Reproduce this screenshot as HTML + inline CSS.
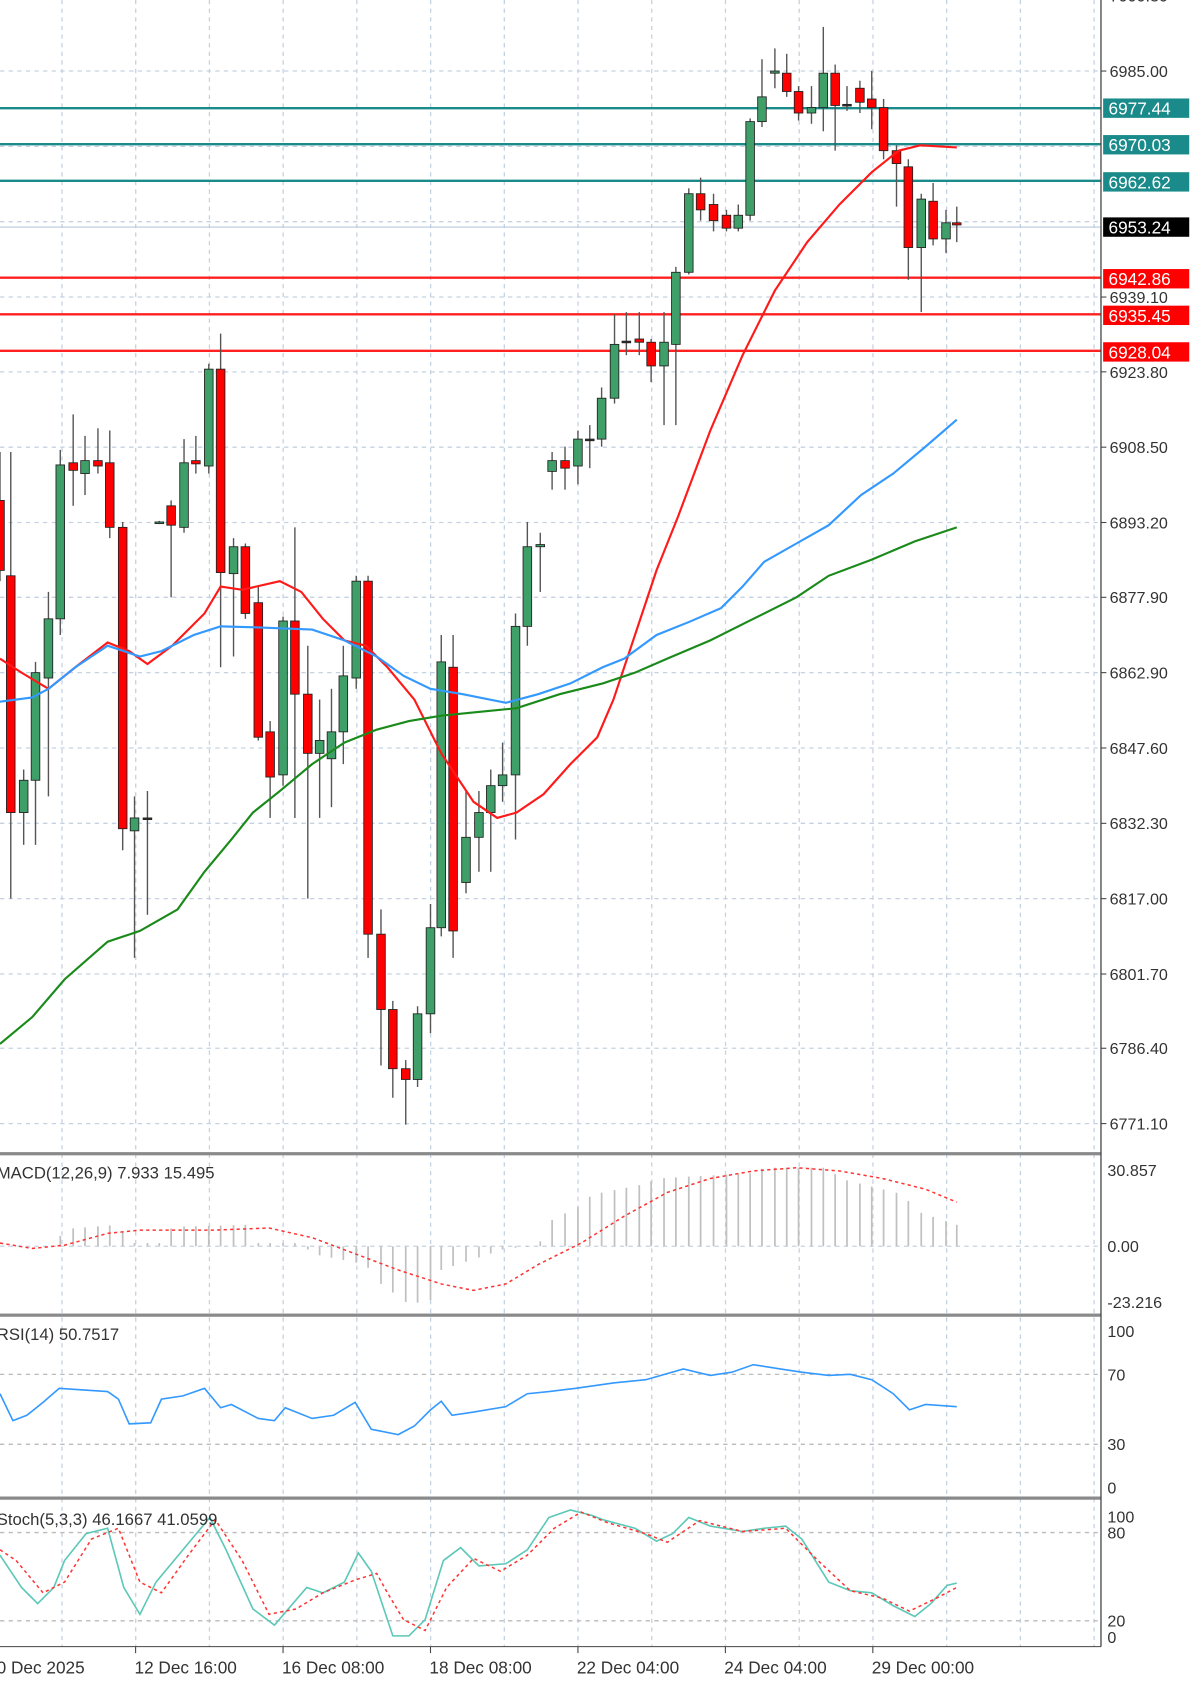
<!DOCTYPE html>
<html><head><meta charset="utf-8"><style>
html,body{margin:0;padding:0;background:#fff;}
svg{display:block;}
text{font-family:"Liberation Sans",sans-serif;}
</style></head><body>
<svg id="s" width="1200" height="1687" viewBox="0 0 1115 1567.5" preserveAspectRatio="none" xmlns="http://www.w3.org/2000/svg">
<rect width="1115" height="1567.5" fill="#fff"/>
<g id="grid"></g>
<g id="lines"></g>
<g id="cand"></g>
<g id="lab"></g>
</svg>
<script>
const NS="http://www.w3.org/2000/svg";
function el(p,t,a,txt){const e=document.createElementNS(NS,t);for(const k in a)e.setAttribute(k,a[k]);if(txt!==undefined)e.textContent=txt;document.getElementById(p).appendChild(e);return e;}
const G="grid",L="lines",C="cand",B="lab";
const gc="#c5d2e2";
for(let k=0;k<15;k++){const x=57.6+68.5*k; if(x>1020)break;
 el(G,"line",{x1:x,y1:0,x2:x,y2:1530,stroke:gc,"stroke-width":1.2,"stroke-dasharray":"4,4"});}
const py=[66,136,206,276,345.5,415.5,485.5,555,625,695,765,835,905,974,1044];
py.forEach(y=>el(G,"line",{x1:0,y1:y,x2:1023,y2:y,stroke:gc,"stroke-width":1.2,"stroke-dasharray":"4,4"}));
[1158].forEach(y=>el(G,"line",{x1:0,y1:y,x2:1023,y2:y,stroke:gc,"stroke-width":1.2,"stroke-dasharray":"4,4"}));
[1277,1342].forEach(y=>el(G,"line",{x1:0,y1:y,x2:1023,y2:y,stroke:"#bbb","stroke-width":1.2,"stroke-dasharray":"4,4"}));
[1424,1506].forEach(y=>el(G,"line",{x1:0,y1:y,x2:1023,y2:y,stroke:"#bbb","stroke-width":1.2,"stroke-dasharray":"4,4"}));
[[100.5,"#1a8a8a"],[134,"#1a8a8a"],[168,"#1a8a8a"],[258,"#ff2020"],[292,"#ff2020"],[326,"#ff2020"]].forEach(a=>el(L,"line",{x1:0,y1:a[0],x2:1023,y2:a[0],stroke:a[1],"stroke-width":2.2}));
el(L,"line",{x1:0,y1:211,x2:1023,y2:211,stroke:"#b8c8dc","stroke-width":1});
const cd=[[0,465,530,420,540],[10,535,755,420,835],[22,755,725,715,785],[33,725,625,615,785],[45,630,575,550,740],[56,575,432,418,590],[68,430,437,385,470],[79,440,428,405,460],[91,428,433,398,440],[102,430,490,400,500],[114,490,770,485,790],[125,772,760,740,890],[137,760,760,735,850],[148,486,485,484,487],[159,470,488,465,555],[171,490,430,408,495],[182,428,431,405,440],[194,433,343,338,440],[205,343,532,310,620],[217,533,508,500,610],[228,508,570,505,575],[240,560,685,545,688],[251,680,722,670,760],[263,720,577,573,730],[274,577,645,490,760],[286,645,700,600,835],[297,700,688,650,760],[308,705,680,640,750],[319,680,628,600,710],[331,630,540,535,640],[342,540,868,535,890],[354,868,938,845,990],[365,938,993,930,1020],[377,993,1003,985,1045],[388,1003,942,935,1010],[400,942,862,840,960],[410,862,615,590,870],[421,620,865,590,890],[433,820,778,735,830],[445,778,755,735,810],[456,755,730,715,810],[467,730,720,690,745],[479,720,582,570,780],[490,582,508,485,600],[502,508,506,495,550],[513,438,428,420,455],[525,428,435,415,455],[537,433,408,400,450],[548,408,408,395,435],[559,408,370,360,415],[571,370,320,292,375],[582,317,317,290,330],[594,315,318,290,330],[605,318,340,315,355],[617,340,318,290,395],[628,320,253,248,395],[640,253,180,175,255],[651,180,195,165,205],[663,190,205,180,215],[675,200,212,195,215],[686,212,200,190,215],[697,200,113,110,205],[708,113,90,55,118],[720,68,66,45,82],[731,68,85,50,90],[742,85,105,80,112],[754,105,100,80,115],[765,100,68,25,122],[776,68,98,60,140],[787,97,97,80,103],[799,82,95,75,105],[810,92,100,66,120],[821,100,140,92,148],[833,140,152,135,192],[844,155,230,148,260],[856,230,185,180,290],[867,187,222,170,228],[879,222,207,195,235],[889,207,209,192,225]];
cd.forEach(c=>{const [x,o,cl,h,l]=c;
 el(C,"line",{x1:x,y1:h,x2:x,y2:l,stroke:"#555","stroke-width":1.3});
 const top=Math.min(o,cl),hh=Math.max(Math.abs(o-cl),1.5);
 const fill=cl<o?"#3f9f68":(cl>o?"#ff0000":"#333");
 el(C,"rect",{x:x-4,y:top,width:8,height:hh,fill:fill,stroke:"#222","stroke-width":0.8});
});
function poly(pts,col,w,dash,par){const a={points:pts.map(p=>p.join(",")).join(" "),fill:"none",stroke:col,"stroke-width":w};if(dash)a["stroke-dasharray"]=dash;el(par||L,"polyline",a);}
poly([[0,612],[20,625],[45,640],[70,620],[100,597],[120,605],[137,617],[160,600],[190,570],[205,545],[225,548],[260,540],[280,550],[300,575],[320,595],[340,600],[360,620],[385,650],[410,700],[440,745],[462,760],[480,755],[505,738],[530,710],[555,685],[570,650],[590,590],[610,530],[630,480],[660,400],[690,330],[720,270],[750,225],[780,190],[810,160],[835,140],[855,135],[889,137]],"#ff1a1a",2,null,C);
poly([[0,652],[30,648],[45,640],[70,620],[100,600],[130,610],[150,605],[180,590],[205,582],[240,583],[290,585],[320,595],[350,610],[375,628],[400,640],[430,645],[470,653],[500,645],[530,635],[560,620],[580,612],[610,590],[640,578],[670,565],[690,545],[710,522],[740,505],[770,488],[800,460],[830,440],[860,415],[889,390]],"#3399ff",2,null,C);
poly([[0,970],[30,945],[60,910],[100,875],[130,865],[165,845],[190,810],[215,780],[235,755],[260,735],[290,710],[320,690],[350,678],[380,670],[410,665],[440,662],[480,658],[520,645],[560,635],[590,625],[620,612],[660,595],[700,575],[740,555],[770,535],[810,520],[850,503],[889,490]],"#1a8a1a",2,null,C);
const ht=[[0,1158],[50,1158],[60,1142],[110,1138],[120,1155],[150,1155],[160,1140],[230,1138],[240,1155],[280,1155],[290,1165],[340,1175],[350,1190],[380,1212],[400,1208],[410,1180],[470,1160],[500,1158],[510,1135],[540,1120],[550,1110],[600,1100],[610,1095],[700,1090],[710,1085],[770,1085],[780,1095],[840,1110],[850,1125],[889,1138]];
function interp(t,x){for(let i=1;i<t.length;i++){if(x<=t[i][0]){const a=t[i-1],b=t[i];return a[1]+(b[1]-a[1])*(x-a[0])/(b[0]-a[0]);}}return t[t.length-1][1];}
cd.forEach(c=>{const y=interp(ht,c[0]);el(C,"line",{x1:c[0],y1:1158,x2:c[0],y2:y,stroke:"#c0c0c0","stroke-width":1.6});});
poly([[0,1155],[30,1160],[60,1157],[100,1146],[130,1143],[200,1143],[250,1141],[290,1150],[330,1165],[370,1180],[410,1193],[440,1199],[470,1193],[500,1175],[540,1155],[580,1130],[620,1108],[660,1095],[700,1088],[740,1085],[780,1088],[820,1095],[860,1105],[889,1117]],"#ff3333",1.4,"3,3",C);
poly([[0,1295],[12,1320],[25,1315],[40,1303],[55,1290],[70,1291],[100,1293],[110,1300],[120,1323],[140,1322],[150,1300],[170,1297],[190,1290],[205,1308],[215,1305],[240,1318],[255,1320],[265,1308],[290,1318],[310,1315],[330,1303],[345,1328],[370,1333],[385,1325],[400,1310],[410,1302],[420,1315],[440,1312],[470,1307],[490,1295],[510,1293],[535,1290],[570,1285],[600,1282],[635,1272],[660,1278],[680,1275],[700,1268],[725,1272],[745,1275],[770,1278],[790,1277],[810,1282],[830,1295],[845,1310],[860,1305],[889,1307]],"#3399ff",1.5,null,C);
poly([[0,1445],[20,1475],[35,1490],[50,1475],[60,1450],[80,1425],[100,1420],[115,1475],[130,1500],[145,1470],[170,1440],[195,1410],[210,1440],[235,1495],[255,1510],[285,1475],[300,1480],[320,1470],[333,1443],[345,1460],[365,1520],[380,1520],[395,1505],[412,1450],[428,1438],[445,1455],[470,1453],[490,1440],[510,1410],[530,1403],[550,1408],[560,1412],[590,1420],[610,1432],[625,1425],[640,1410],[660,1418],[690,1423],[710,1420],[730,1418],[745,1430],[770,1470],[790,1478],[810,1480],[830,1492],[850,1502],[865,1490],[880,1473],[889,1471]],"#5cc8b8",1.5,null,C);
poly([[0,1440],[15,1450],[40,1480],[60,1470],[85,1430],[110,1420],[130,1470],[150,1480],[175,1445],[200,1412],[225,1450],[250,1500],[275,1495],[300,1480],[330,1468],[350,1462],[360,1480],[375,1505],[395,1515],[415,1475],[440,1448],[465,1460],[490,1445],[515,1420],[540,1405],[565,1415],[600,1425],[620,1433],[650,1413],[690,1423],[730,1420],[760,1450],[790,1478],[820,1485],[845,1497],[870,1485],[889,1475]],"#ff3333",1.4,"3,3",C);
[1072,1222,1392].forEach(y=>el(B,"rect",{x:0,y:y-1.5,width:1023,height:3,fill:"#8a8a8a"}));
el(B,"line",{x1:1023,y1:0,x2:1023,y2:1530,stroke:"#444","stroke-width":1.2});
el(B,"line",{x1:0,y1:1530,x2:1023,y2:1530,stroke:"#444","stroke-width":1});
const fs=15;
function tl(y,t){el(B,"line",{x1:1023,y1:y,x2:1028,y2:y,stroke:"#444"});el(B,"text",{x:1031,y:y+5.5,"font-size":fs,fill:"#333"},t);}
tl(-4,"7000.30");tl(66,"6985.00");tl(276,"6939.10");tl(345.5,"6923.80");tl(415.5,"6908.50");tl(485.5,"6893.20");tl(555,"6877.90");tl(625,"6862.90");tl(695,"6847.60");tl(765,"6832.30");tl(835,"6817.00");tl(905,"6801.70");tl(974,"6786.40");tl(1044,"6771.10");
function box(y,t,col){el(B,"rect",{x:1025,y:y-9,width:80,height:18,fill:col});el(B,"text",{x:1030,y:y+6,"font-size":16,fill:"#fff"},t);}
box(100.5,"6977.44","#1a8a8a");box(134.5,"6970.03","#1a8a8a");box(169,"6962.62","#1a8a8a");box(211,"6953.24","#000");box(259,"6942.86","#ff0000");box(293,"6935.45","#ff0000");box(327,"6928.04","#ff0000");
[[1087,"30.857"],[1158,"0.00"],[1210,"-23.216"],[1237,"100"],[1277,"70"],[1342,"30"],[1382,"0"],[1409,"100"],[1424,"80"],[1506,"20"],[1521,"0"]].forEach(a=>el(B,"text",{x:1029,y:a[0]+5.5,"font-size":fs,fill:"#333"},a[1]));
el(B,"text",{x:-3,y:1095,"font-size":15.5,fill:"#333"},"MACD(12,26,9) 7.933 15.495");
el(B,"text",{x:-3,y:1245,"font-size":15.5,fill:"#333"},"RSI(14) 50.7517");
el(B,"text",{x:-3,y:1417,"font-size":15.5,fill:"#333"},"Stoch(5,3,3) 46.1667 41.0599");
[[-11,"10 Dec 2025"],[126,"12 Dec 16:00"],[263,"16 Dec 08:00"],[400,"18 Dec 08:00"],[537,"22 Dec 04:00"],[674,"24 Dec 04:00"],[811,"29 Dec 00:00"]].forEach(a=>{el(B,"line",{x1:a[0],y1:1530,x2:a[0],y2:1536,stroke:"#444"});el(B,"text",{x:a[0]-1,y:1555,"font-size":16,fill:"#333"},a[1]);});
</script>
</body></html>
